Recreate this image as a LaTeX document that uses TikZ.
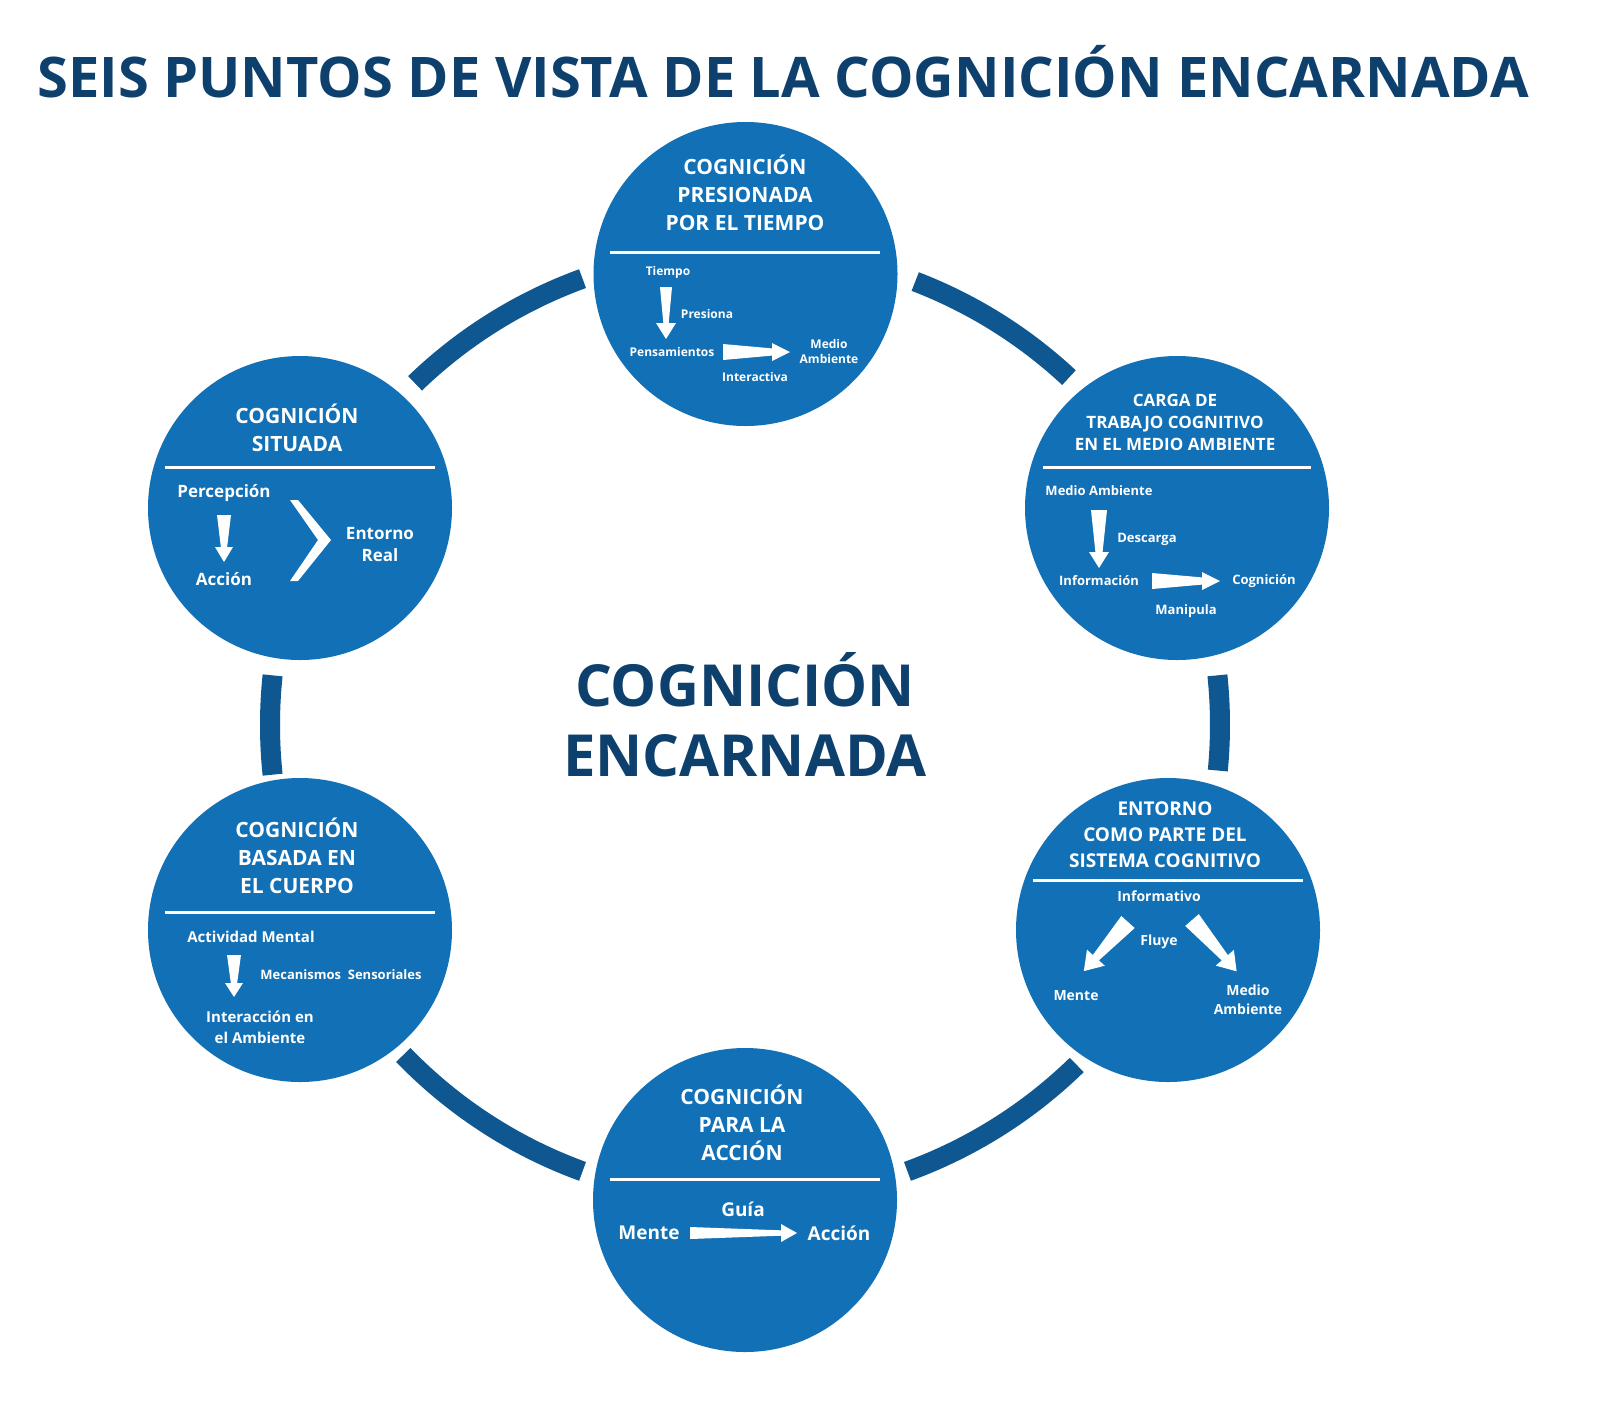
\documentclass[tikz,border=0pt]{standalone}
\usepackage{fontspec}
\setmainfont{Open Sans}
\definecolor{cblue}{HTML}{1170B6}
\definecolor{carc}{HTML}{0F5791}
\definecolor{cnavy}{HTML}{0E406E}
\newcommand{\tarw}[7]{% x y angle length tailhalf headlen headhalf
\begin{scope}[shift={(#1,#2)},rotate=#3]
\fill[white] (0,-#5) -- (#4-#6,-0.45*#5) -- (#4-#6,-#7) -- (#4,0) -- (#4-#6,#7) -- (#4-#6,0.45*#5) -- (0,#5) -- cycle;
\end{scope}}
\begin{document}
\begin{tikzpicture}[x=1pt,y=-1pt,
  circ/.style={fill=cblue,draw=none},
  ttl/.style={text=white,font=\bfseries\fontsize{21}{28}\selectfont,align=center,inner sep=0},
  sm/.style={text=white,font=\bfseries\fontsize{12}{15}\selectfont,align=center,inner sep=0},
  md/.style={text=white,font=\bfseries\fontsize{17}{22}\selectfont,align=center,inner sep=0},
  sep/.style={white,line width=3pt},
  ring/.style={carc,line width=20pt}]
\useasboundingbox (0,0) rectangle (1600,1401);
\fill[white] (0,0) rectangle (1600,1401);
\node[text=cnavy,font=\bfseries\fontsize{56}{60}\selectfont,inner sep=0] (title) at (783,72) {SEIS PUNTOS DE VISTA DE LA COGNICIÓN ENCARNADA};
% ring arcs
\draw[ring] ([shift={(745,725)}]-110:475) arc[start angle=-110,end angle=-134,radius=475];
\draw[ring] ([shift={(745,725)}]-47:475) arc[start angle=-47,end angle=-69,radius=475];
\draw[ring] ([shift={(745,725)}]-6:475) arc[start angle=-6,end angle=5.5,radius=475];
\draw[ring] ([shift={(745,725)}]174:475) arc[start angle=174,end angle=186,radius=475];
\draw[ring] ([shift={(745,725)}]45.7:475) arc[start angle=45.7,end angle=70,radius=475];
\draw[ring] ([shift={(745,725)}]110:475) arc[start angle=110,end angle=136,radius=475];
% circles
\fill[circ] (745.5,274) circle (152);
\fill[circ] (300,508) circle (152);
\fill[circ] (1177,508) circle (152);
\fill[circ] (300,930) circle (152);
\fill[circ] (1168,930) circle (152);
\fill[circ] (745,1200) circle (152);
% center
\node[text=cnavy,font=\bfseries\fontsize{58}{70}\selectfont,align=center,inner sep=0] (center) at (745,715) {COGNICIÓN\\ENCARNADA};
% top
\node[ttl] (t1) at (745,193) {COGNICIÓN\\PRESIONADA\\POR EL TIEMPO};
\draw[sep] (610,252) -- (880,252);
\node[sm] (t2) at (668,272) {Tiempo};
\tarw{666}{287}{-90}{52}{6}{16}{10}
\node[sm] (t3) at (707,314) {Presiona};
\node[sm] (t4) at (672,352) {Pensamientos};
\tarw{723}{352}{0}{67}{8}{18}{9}
\node[sm] (t5) at (829,351) {Medio\\Ambiente};
\node[sm] (t6) at (755,377) {Interactiva};
% right
\node[md] (r1) at (1175,422) {CARGA DE\\TRABAJO COGNITIVO\\EN EL MEDIO AMBIENTE};
\draw[sep] (1043,467) -- (1311,467);
\node[sm,font=\bfseries\fontsize{13}{16}\selectfont] (r2) at (1099,491) {Medio Ambiente};
\tarw{1099}{510}{-90}{58}{8}{16}{10}
\node[sm,font=\bfseries\fontsize{13}{16}\selectfont] (r3) at (1147,539) {Descarga};
\node[sm,font=\bfseries\fontsize{13}{16}\selectfont] (r4) at (1099,581) {Información};
\tarw{1152}{581}{0}{68}{8}{18}{9}
\node[sm,font=\bfseries\fontsize{13}{16}\selectfont] (r5) at (1264,581) {Cognición};
\node[sm,font=\bfseries\fontsize{13}{16}\selectfont] (r6) at (1186,611) {Manipula};
% left
\node[ttl] (l1) at (297,428) {COGNICIÓN\\SITUADA};
\draw[sep] (165,467) -- (435,467);
\node[md] (l2) at (224,493) {Percepción};
\tarw{224}{515}{-90}{47}{7}{15}{9}
\node[md] (l3) at (224,579) {Acción};
\fill[white] (290,500) -- (298,500) -- (331,540) -- (298,581) -- (290,581) -- (318,540) -- cycle;
\node[md] (l4) at (380,545) {Entorno\\Real};
% bottom left
\node[ttl] (bl1) at (297,856) {COGNICIÓN\\BASADA EN\\EL CUERPO};
\draw[sep] (165,912) -- (435,912);
\node[sm,font=\bfseries\fontsize{15}{19}\selectfont] (bl2) at (251,937) {Actividad Mental};
\tarw{234}{955}{-90}{42}{7}{14}{9}
\node[sm,font=\bfseries\fontsize{13}{16}\selectfont] (bl3) at (341,975) {Mecanismos\ \ Sensoriales};
\node[sm,font=\bfseries\fontsize{15}{21}\selectfont] (bl4) at (260,1027) {Interacción en\\el Ambiente};
% bottom right
\node[md,font=\bfseries\fontsize{19}{26}\selectfont] (br1) at (1165,835) {ENTORNO\\COMO PARTE DEL\\SISTEMA COGNITIVO};
\draw[sep] (1033,880) -- (1303,880);
\node[sm,font=\bfseries\fontsize{14}{17}\selectfont] (br2) at (1159,896) {Informativo};
\tarw{1128}{922}{-132}{66}{9}{18}{12}
\tarw{1192}{920}{-49}{68}{9}{18}{12}
\node[sm,font=\bfseries\fontsize{14}{17}\selectfont] (br3) at (1159,942) {Fluye};
\node[sm,font=\bfseries\fontsize{14}{17}\selectfont] (br4) at (1076,996) {Mente};
\node[sm,font=\bfseries\fontsize{14}{19}\selectfont] (br5) at (1248,1000) {Medio\\Ambiente};
% bottom
\node[ttl] (b1) at (742,1123) {COGNICIÓN\\PARA LA\\ACCIÓN};
\draw[sep] (610,1179) -- (880,1179);
\node[md,font=\bfseries\fontsize{19}{24}\selectfont] (b2) at (743,1209) {Guía};
\node[md,font=\bfseries\fontsize{19}{24}\selectfont] (b3) at (649,1233) {Mente};
\tarw{690}{1233}{0}{107}{6}{16}{9}
\node[md,font=\bfseries\fontsize{19}{24}\selectfont] (b4) at (839,1233) {Acción};
\end{tikzpicture}
\end{document}
